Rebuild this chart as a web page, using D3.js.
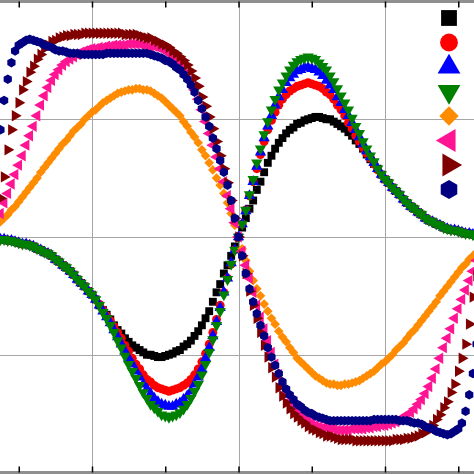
<!DOCTYPE html>
<html><head><meta charset="utf-8">
<script src="https://cdn.jsdelivr.net/npm/d3@7"></script>
<style>html,body{margin:0;padding:0;background:#fff;overflow:hidden}</style>
</head><body><svg id="c" width="474" height="474"></svg>
<script>
// x positions (sampling grid)
const xs = [-1.625,-1.6,-1.575,-1.55,-1.525,-1.5,-1.475,-1.45,-1.425,-1.4,-1.375,-1.35,-1.325,-1.3,-1.275,-1.25,-1.225,-1.2,-1.175,-1.15,-1.125,-1.1,-1.075,-1.05,-1.025,-1,-0.975,-0.95,-0.925,-0.9,-0.875,-0.85,-0.825,-0.8,-0.775,-0.75,-0.725,-0.7,-0.675,-0.65,-0.625,-0.6,-0.575,-0.55,-0.525,-0.5,-0.475,-0.45,-0.425,-0.4,-0.375,-0.35,-0.325,-0.3,-0.275,-0.25,-0.225,-0.2,-0.175,-0.15,-0.125,-0.1,-0.075,-0.05,-0.025,0,0.025,0.05,0.075,0.1,0.125,0.15,0.175,0.2,0.225,0.25,0.275,0.3,0.325,0.35,0.375,0.4,0.425,0.45,0.475,0.5,0.525,0.55,0.575,0.6,0.625,0.65,0.675,0.7,0.725,0.75,0.775,0.8,0.825,0.85,0.875,0.9,0.925,0.95,0.975,1,1.025,1.05,1.075,1.1,1.125,1.15,1.175,1.2,1.225,1.25,1.275,1.3,1.325,1.35,1.375,1.4,1.425,1.45,1.475,1.5,1.525,1.55,1.575,1.6,1.625];

const sBlack = [-0.02,-0.02,-0.03,-0.03,-0.04,-0.05,-0.06,-0.06,-0.07,-0.08,-0.10,-0.11,-0.13,-0.14,-0.16,-0.19,-0.21,-0.24,-0.26,-0.29,-0.32,-0.36,-0.39,-0.42,-0.46,-0.49,-0.53,-0.58,-0.62,-0.66,-0.70,-0.75,-0.79,-0.82,-0.86,-0.89,-0.92,-0.94,-0.96,-0.98,-1.00,-1.00,-1.01,-1.02,-1.02,-1.01,-1.00,-0.99,-0.97,-0.96,-0.93,-0.91,-0.88,-0.84,-0.80,-0.75,-0.69,-0.63,-0.55,-0.47,-0.40,-0.31,-0.24,-0.16,-0.08,0,
0.08,0.16,0.24,0.31,0.40,0.47,0.55,0.63,0.69,0.75,0.80,0.84,0.88,0.91,0.93,0.96,0.97,0.99,1.00,1.01,1.02,1.02,1.01,1.00,1.00,0.98,0.96,0.94,0.92,0.89,0.86,0.82,0.79,0.75,0.70,0.66,0.62,0.58,0.53,0.49,0.46,0.42,0.39,0.36,0.32,0.29,0.26,0.24,0.21,0.19,0.16,0.14,0.13,0.11,0.10,0.08,0.07,0.06,0.06,0.05,0.04,0.03,0.03,0.02,0.02];

const sRed = [-0.02,-0.02,-0.03,-0.03,-0.04,-0.05,-0.06,-0.06,-0.07,-0.08,-0.10,-0.11,-0.13,-0.14,-0.16,-0.19,-0.21,-0.24,-0.26,-0.29,-0.32,-0.36,-0.39,-0.42,-0.46,-0.49,-0.53,-0.57,-0.62,-0.67,-0.71,-0.76,-0.81,-0.86,-0.92,-0.97,-1.03,-1.08,-1.12,-1.17,-1.21,-1.23,-1.26,-1.28,-1.29,-1.30,-1.31,-1.30,-1.29,-1.28,-1.26,-1.24,-1.21,-1.17,-1.12,-1.06,-0.99,-0.91,-0.81,-0.70,-0.58,-0.47,-0.35,-0.23,-0.11,0,
0.11,0.23,0.35,0.47,0.58,0.70,0.81,0.91,0.99,1.06,1.12,1.17,1.21,1.24,1.26,1.28,1.29,1.30,1.31,1.30,1.29,1.28,1.26,1.23,1.21,1.17,1.12,1.08,1.03,0.97,0.92,0.86,0.81,0.76,0.71,0.67,0.62,0.57,0.53,0.49,0.46,0.42,0.39,0.36,0.32,0.29,0.26,0.24,0.21,0.19,0.16,0.14,0.13,0.11,0.10,0.08,0.07,0.06,0.06,0.05,0.04,0.03,0.03,0.02,0.02];

const sBlue = [-0.02,-0.02,-0.03,-0.03,-0.04,-0.05,-0.06,-0.06,-0.07,-0.08,-0.10,-0.11,-0.13,-0.14,-0.16,-0.19,-0.21,-0.24,-0.26,-0.29,-0.32,-0.36,-0.39,-0.42,-0.46,-0.49,-0.53,-0.58,-0.63,-0.68,-0.73,-0.79,-0.85,-0.91,-0.97,-1.03,-1.08,-1.14,-1.19,-1.25,-1.29,-1.33,-1.37,-1.40,-1.42,-1.43,-1.44,-1.44,-1.42,-1.41,-1.38,-1.35,-1.31,-1.25,-1.19,-1.12,-1.03,-0.94,-0.84,-0.72,-0.60,-0.47,-0.35,-0.22,-0.11,0,
0.11,0.22,0.35,0.47,0.60,0.72,0.84,0.94,1.03,1.12,1.19,1.25,1.31,1.35,1.38,1.41,1.42,1.44,1.44,1.43,1.42,1.40,1.37,1.33,1.29,1.25,1.19,1.14,1.08,1.03,0.97,0.91,0.85,0.79,0.73,0.68,0.63,0.58,0.53,0.49,0.46,0.42,0.39,0.36,0.32,0.29,0.26,0.24,0.21,0.19,0.16,0.14,0.13,0.11,0.10,0.08,0.07,0.06,0.06,0.05,0.04,0.03,0.03,0.02,0.02];

const sGreen = [-0.02,-0.02,-0.03,-0.03,-0.04,-0.05,-0.06,-0.06,-0.07,-0.08,-0.10,-0.11,-0.13,-0.14,-0.16,-0.19,-0.21,-0.24,-0.26,-0.29,-0.32,-0.36,-0.39,-0.42,-0.46,-0.49,-0.53,-0.58,-0.64,-0.69,-0.75,-0.81,-0.88,-0.94,-1.01,-1.08,-1.14,-1.20,-1.26,-1.32,-1.37,-1.42,-1.45,-1.48,-1.51,-1.52,-1.53,-1.52,-1.51,-1.49,-1.46,-1.42,-1.37,-1.31,-1.25,-1.17,-1.08,-0.98,-0.87,-0.75,-0.63,-0.49,-0.36,-0.23,-0.11,0,
0.11,0.23,0.36,0.49,0.63,0.75,0.87,0.98,1.08,1.17,1.25,1.31,1.37,1.42,1.46,1.49,1.51,1.52,1.53,1.52,1.51,1.48,1.45,1.42,1.37,1.32,1.26,1.20,1.14,1.08,1.01,0.94,0.88,0.81,0.75,0.69,0.64,0.58,0.53,0.49,0.46,0.42,0.39,0.36,0.32,0.29,0.26,0.24,0.21,0.19,0.16,0.14,0.13,0.11,0.10,0.08,0.07,0.06,0.06,0.05,0.04,0.03,0.03,0.02,0.02];

const sOrange = [0.13,0.16,0.19,0.23,0.26,0.30,0.34,0.38,0.42,0.46,0.50,0.55,0.59,0.63,0.67,0.71,0.75,0.79,0.82,0.86,0.90,0.93,0.96,1.00,1.03,1.06,1.08,1.11,1.14,1.16,1.18,1.20,1.22,1.23,1.24,1.25,1.25,1.26,1.26,1.25,1.25,1.24,1.22,1.20,1.18,1.15,1.12,1.09,1.06,1.03,0.98,0.94,0.89,0.85,0.80,0.74,0.69,0.63,0.57,0.50,0.44,0.37,0.29,0.20,0.10,0,
-0.10,-0.20,-0.29,-0.37,-0.44,-0.50,-0.57,-0.63,-0.69,-0.74,-0.80,-0.85,-0.89,-0.94,-0.98,-1.03,-1.06,-1.09,-1.12,-1.15,-1.18,-1.20,-1.22,-1.24,-1.25,-1.25,-1.26,-1.26,-1.25,-1.25,-1.24,-1.23,-1.22,-1.20,-1.18,-1.16,-1.14,-1.11,-1.08,-1.06,-1.03,-1.00,-0.96,-0.93,-0.90,-0.86,-0.82,-0.79,-0.75,-0.71,-0.67,-0.63,-0.59,-0.55,-0.50,-0.46,-0.42,-0.38,-0.34,-0.30,-0.26,-0.23,-0.19,-0.16,-0.13];

const sPink = [0.20,0.29,0.37,0.45,0.53,0.61,0.69,0.78,0.86,0.94,1.03,1.12,1.20,1.27,1.33,1.38,1.42,1.46,1.49,1.51,1.53,1.55,1.57,1.58,1.59,1.60,1.60,1.61,1.61,1.62,1.62,1.63,1.63,1.63,1.63,1.64,1.64,1.64,1.64,1.63,1.63,1.62,1.62,1.61,1.60,1.58,1.56,1.54,1.52,1.48,1.44,1.39,1.32,1.25,1.17,1.08,0.98,0.88,0.78,0.68,0.58,0.47,0.35,0.24,0.12,0,
-0.12,-0.24,-0.35,-0.47,-0.58,-0.68,-0.78,-0.88,-0.98,-1.08,-1.17,-1.25,-1.32,-1.39,-1.44,-1.48,-1.52,-1.54,-1.56,-1.58,-1.60,-1.61,-1.62,-1.62,-1.63,-1.63,-1.64,-1.64,-1.64,-1.64,-1.63,-1.63,-1.63,-1.63,-1.62,-1.62,-1.61,-1.61,-1.60,-1.60,-1.59,-1.58,-1.57,-1.55,-1.53,-1.51,-1.49,-1.46,-1.42,-1.38,-1.33,-1.27,-1.20,-1.12,-1.03,-0.94,-0.86,-0.78,-0.69,-0.61,-0.53,-0.45,-0.37,-0.29,-0.20];

const sMaroon = [0.33,0.51,0.74,0.91,1.03,1.14,1.25,1.32,1.40,1.45,1.51,1.55,1.60,1.63,1.66,1.67,1.69,1.70,1.71,1.71,1.72,1.72,1.72,1.73,1.73,1.73,1.73,1.73,1.73,1.73,1.73,1.73,1.73,1.73,1.72,1.72,1.72,1.72,1.71,1.70,1.69,1.69,1.67,1.66,1.64,1.63,1.61,1.58,1.56,1.53,1.50,1.46,1.41,1.35,1.28,1.19,1.11,1.02,0.92,0.81,0.69,0.58,0.46,0.31,0.16,0,
-0.16,-0.31,-0.46,-0.58,-0.69,-0.81,-0.92,-1.02,-1.11,-1.19,-1.28,-1.35,-1.41,-1.46,-1.50,-1.53,-1.56,-1.58,-1.61,-1.63,-1.64,-1.66,-1.67,-1.69,-1.69,-1.70,-1.71,-1.72,-1.72,-1.72,-1.72,-1.73,-1.73,-1.73,-1.73,-1.73,-1.73,-1.73,-1.73,-1.73,-1.73,-1.73,-1.72,-1.72,-1.72,-1.71,-1.71,-1.70,-1.69,-1.67,-1.66,-1.63,-1.60,-1.55,-1.51,-1.45,-1.40,-1.32,-1.25,-1.14,-1.03,-0.91,-0.74,-0.51,-0.33];

const sNavy = [0.91,1.16,1.34,1.48,1.58,1.63,1.65,1.67,1.68,1.67,1.66,1.65,1.63,1.62,1.61,1.59,1.58,1.58,1.57,1.56,1.56,1.56,1.55,1.55,1.55,1.55,1.55,1.55,1.55,1.56,1.56,1.56,1.56,1.56,1.56,1.56,1.56,1.56,1.56,1.56,1.56,1.55,1.54,1.53,1.52,1.50,1.49,1.47,1.44,1.42,1.38,1.34,1.29,1.23,1.16,1.09,1.02,0.94,0.84,0.75,0.65,0.55,0.44,0.31,0.16,0,
-0.16,-0.31,-0.44,-0.55,-0.65,-0.75,-0.84,-0.94,-1.02,-1.09,-1.16,-1.23,-1.29,-1.34,-1.38,-1.42,-1.44,-1.47,-1.49,-1.50,-1.52,-1.53,-1.54,-1.55,-1.56,-1.56,-1.56,-1.56,-1.56,-1.56,-1.56,-1.56,-1.56,-1.56,-1.56,-1.56,-1.55,-1.55,-1.55,-1.55,-1.55,-1.55,-1.55,-1.56,-1.56,-1.56,-1.57,-1.58,-1.58,-1.59,-1.61,-1.62,-1.63,-1.65,-1.66,-1.67,-1.68,-1.67,-1.65,-1.63,-1.58,-1.48,-1.34,-1.16,-0.91];

const seriesValues = [sBlack, sRed, sBlue, sGreen, sOrange, sPink, sMaroon, sNavy];
const seriesColors = ["#000000", "#ff0000", "#0000ff", "#008000", "#ff8c00", "#ff1493", "#800000", "#000080"];
const seriesMarkers = ["square", "circle", "triUp", "triDown", "diamond", "triLeft", "triRight", "hexagon"];

const xTicks = [-1.5, -1, -0.5, 0, 0.5, 1, 1.5];
const xGrid = [-1, 0, 1];
const yGrid = [-1, 0, 1];

const W = 474, H = 474;
const x = d3.scaleLinear().domain([-1.5, 1.5]).range([18.75, 458.25]);
const y = d3.scaleLinear().domain([-2, 2]).range([472.5, 1.5]);

const svg = d3.select("#c");
svg.append("rect").attr("width", W).attr("height", H).attr("fill", "#fff");

// grid
const grid = svg.append("g").attr("stroke", "#a6a6a6").attr("stroke-width", 1);
grid.selectAll("line.v").data(xGrid).join("line").attr("class", "v")
  .attr("x1", d => Math.round(x(d)) + 0.5).attr("x2", d => Math.round(x(d)) + 0.5)
  .attr("y1", y(2)).attr("y2", y(-2));
grid.selectAll("line.h").data(yGrid).join("line").attr("class", "h")
  .attr("y1", d => Math.round(y(d)) + 0.5).attr("y2", d => Math.round(y(d)) + 0.5)
  .attr("x1", 0).attr("x2", W);

// hexagon symbol
const symHex = {
  draw(ctx, size) {
    const r = Math.sqrt(2 * size / (3 * Math.sqrt(3)));
    for (let k = 0; k < 6; k++) {
      const a = -Math.PI / 2 + k * Math.PI / 3;
      const px = r * Math.cos(a), py = r * Math.sin(a);
      if (k === 0) ctx.moveTo(px, py); else ctx.lineTo(px, py);
    }
    ctx.closePath();
  }
};
const markerDef = {
  square: {type: d3.symbolSquare, rot: 0, k: 1.0},
  circle: {type: d3.symbolCircle, rot: 0, k: 1.0},
  triUp: {type: d3.symbolTriangle, rot: 0, k: 0.9},
  triDown: {type: d3.symbolTriangle, rot: 180, k: 0.9},
  diamond: {type: d3.symbolSquare, rot: 45, k: 0.75},
  triLeft: {type: d3.symbolTriangle, rot: -90, k: 0.9},
  triRight: {type: d3.symbolTriangle, rot: 90, k: 0.9},
  hexagon: {type: symHex, rot: 0, k: 0.95}
};

const plotSize = 62;
seriesValues.forEach((vals, si) => {
  const m = markerDef[seriesMarkers[si]];
  const path = d3.symbol().type(m.type).size(plotSize * m.k)();
  const pts = xs.map((xv, i) => [xv, vals[i]]);
  svg.append("g").attr("fill", seriesColors[si])
    .selectAll("path").data(pts).join("path")
    .attr("d", path)
    .attr("transform", d => `translate(${x(d[0])},${y(d[1])}) rotate(${m.rot})`);
});

// borders (top and bottom)
svg.append("line").attr("x1", 0).attr("x2", W).attr("y1", y(2)).attr("y2", y(2))
  .attr("stroke", "#8f8f8f").attr("stroke-width", 3);
svg.append("line").attr("x1", 0).attr("x2", W).attr("y1", y(-2)).attr("y2", y(-2))
  .attr("stroke", "#8f8f8f").attr("stroke-width", 3);

// ticks via axes (inward)
const axTop = d3.axisBottom(x).tickValues(xTicks).tickSize(6).tickFormat("");
const gTop = svg.append("g").attr("transform", `translate(0,${y(2)})`).call(axTop);
const axBot = d3.axisTop(x).tickValues(xTicks).tickSize(6).tickFormat("");
const gBot = svg.append("g").attr("transform", `translate(0,${y(-2)})`).call(axBot);
[gTop, gBot].forEach(g => {
  g.select(".domain").remove();
  g.selectAll(".tick line").attr("stroke", "#000").attr("stroke-width", 1.5);
});

// legend (markers only)
const legX = 449, legY0 = 18, legDy = 24.5;
const legSize = 250;
seriesMarkers.forEach((mk, i) => {
  const m = markerDef[mk];
  svg.append("path")
    .attr("d", d3.symbol().type(m.type).size(legSize * m.k)())
    .attr("fill", seriesColors[i])
    .attr("transform", `translate(${legX},${legY0 + i * legDy}) rotate(${m.rot})`);
});
</script>
</body></html>
